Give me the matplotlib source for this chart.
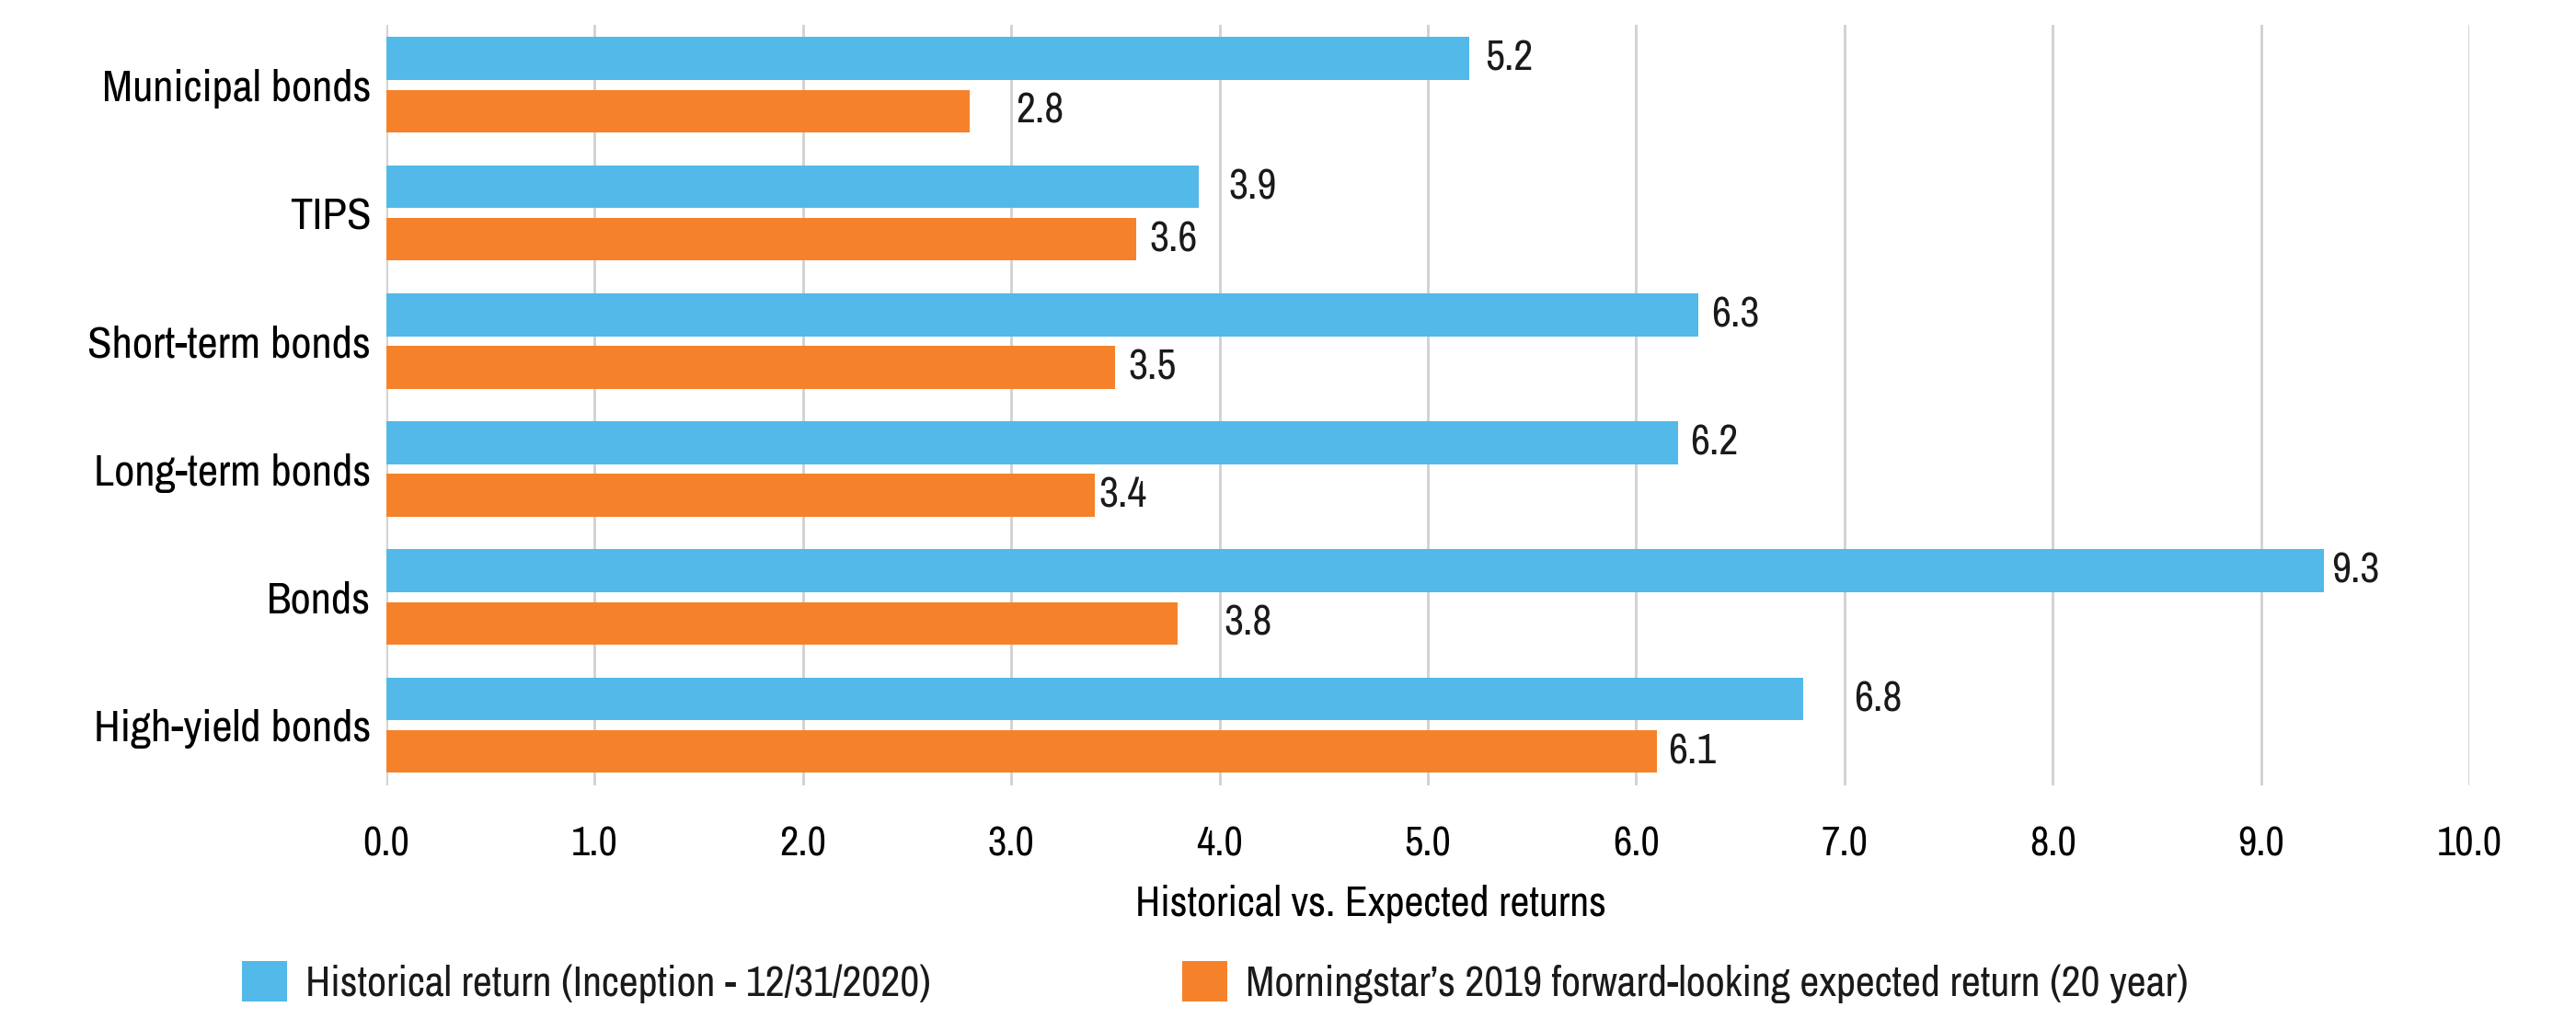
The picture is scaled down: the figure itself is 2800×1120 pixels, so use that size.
import matplotlib.pyplot as plt
import numpy as np

# data
categories = ["Municipal bonds", "TIPS", "Short-term bonds", "Long-term bonds", "Bonds", "High-yield bonds"]
historical = [5.2, 3.9, 6.3, 6.2, 9.3, 6.8]
expected = [2.8, 3.6, 3.5, 3.4, 3.8, 6.1]
series_names = ["Historical return (Inception - 12/31/2020)",
                "Morningstar\u2019s 2019 forward-looking expected return (20 year)"]
x_ticks = np.arange(0, 11, 1)

# label gaps (points) - the source chart places them a bit unevenly
hist_pad = [12, 23, 10, 10, 6, 40]
exp_pad = [36, 10, 10, 3, 36, 9]

blue = "#52B9E9"
orange = "#F5822A"
fs = 33

# condensed face, falls back to DejaVu if missing
plt.rcParams['font.family'] = ['Archivo Narrow', 'Liberation Sans Narrow', 'DejaVu Sans']
plt.rcParams['text.color'] = '#1a1a1a'

fig = plt.figure(figsize=(28, 11.2), dpi=100)
ax = fig.add_axes([0.15, 0.2375, 0.8086, 0.7385])

y = np.arange(len(categories))
h = 0.335
off = 0.205
ax.barh(y - off, historical, height=h, color=blue, label=series_names[0], zorder=3)
ax.barh(y + off, expected, height=h, color=orange, label=series_names[1], zorder=3)

for i in range(len(categories)):
    ax.annotate(f"{historical[i]:.1f}", (historical[i], y[i] - off), xytext=(hist_pad[i], 0),
                textcoords='offset points', va='center', ha='left', fontsize=fs)
    ax.annotate(f"{expected[i]:.1f}", (expected[i], y[i] + off), xytext=(exp_pad[i], 0),
                textcoords='offset points', va='center', ha='left', fontsize=fs)

ax.set_xlim(0, 10)
ax.set_ylim(5.47, -0.47)
ax.set_yticks(y)
ax.set_yticklabels(categories, fontsize=35)
ax.set_xticks(x_ticks)
ax.set_xticklabels([f"{v:.1f}" for v in x_ticks], fontsize=32)
ax.tick_params(axis='y', length=0, pad=12)
ax.tick_params(axis='x', length=0, pad=32)
ax.grid(axis='x', color='#D0D0D0', linewidth=2, zorder=0)
for s in ax.spines.values():
    s.set_visible(False)

ax.set_xlabel("Historical vs. Expected returns", fontsize=fs)
ax.xaxis.set_label_coords(0.4726, -0.13)

fig.legend(loc='center left', bbox_to_anchor=(0.094, 0.0464), ncol=2, frameon=False,
           fontsize=fs, handlelength=1.07, handleheight=1.07, handletextpad=0.44,
           columnspacing=5.95, borderpad=0, borderaxespad=0)

fig.savefig("out.png", dpi=100)
